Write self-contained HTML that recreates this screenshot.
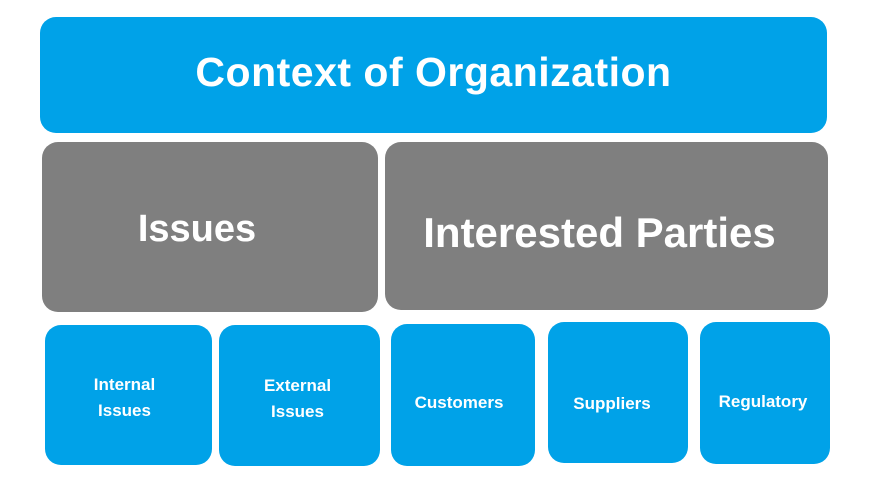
<!DOCTYPE html>
<html><head><meta charset="utf-8"><style>
html,body{margin:0;padding:0;background:#fff;}
body{width:879px;height:489px;position:relative;overflow:hidden;font-family:"Liberation Sans",sans-serif;font-weight:bold;color:#fff;}
.b{position:absolute;display:flex;align-items:center;justify-content:center;text-align:center;border-radius:16px;}
.blue{background:#00A2E8;}
.gray{background:#7F7F7F;}
.s{font-size:17px;line-height:26px;}
</style></head><body>
<div class="b blue" style="left:40px;top:17px;width:787px;height:116px;font-size:41px;letter-spacing:0.5px;padding-bottom:6px;box-sizing:border-box;">Context of Organization</div>
<div class="b gray" style="left:42px;top:142px;width:336px;height:170px;font-size:38px;"><span style="position:relative;left:-13px;top:2px;">Issues</span></div>
<div class="b gray" style="left:385px;top:142px;width:443px;height:168px;font-size:42px;"><span style="position:relative;left:-7px;top:7px;">Interested Parties</span></div>
<div class="b blue s" style="left:45px;top:325px;width:167px;height:140px;"><span style="position:relative;left:-4px;top:3px;">Internal<br>Issues</span></div>
<div class="b blue s" style="left:219px;top:325px;width:161px;height:141px;"><span style="position:relative;left:-2px;top:3px;">External<br>Issues</span></div>
<div class="b blue s" style="left:391px;top:324px;width:144px;height:142px;"><span style="position:relative;left:-4px;top:8px;">Customers</span></div>
<div class="b blue s" style="left:548px;top:322px;width:140px;height:141px;"><span style="position:relative;left:-6px;top:11px;">Suppliers</span></div>
<div class="b blue s" style="left:700px;top:322px;width:130px;height:142px;"><span style="position:relative;left:-2px;top:9px;">Regulatory</span></div>
</body></html>
